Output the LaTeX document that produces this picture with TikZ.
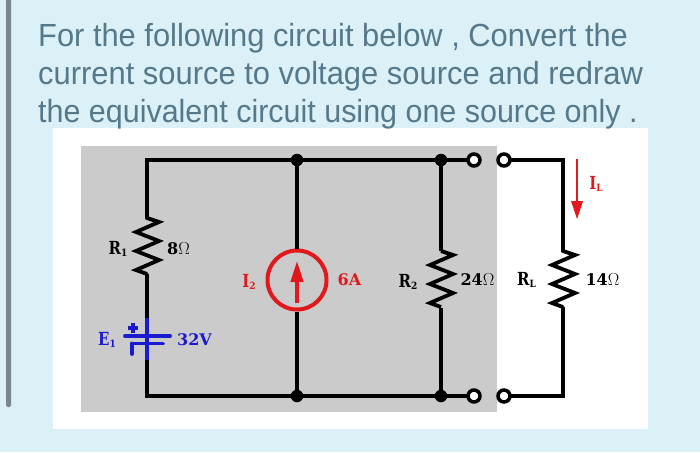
\documentclass[tikz,border=0pt]{standalone}
\usepackage[no-math]{fontspec}
\newfontfamily\headfont{Liberation Sans}
\newfontfamily\labfont{DejaVu Serif}
\definecolor{panelbg}{HTML}{DCF0F7}
\definecolor{greybox}{HTML}{CBCBCB}
\definecolor{sidebar}{HTML}{78878C}
\definecolor{headtext}{HTML}{55798A}
\definecolor{srcred}{HTML}{E2181C}
\definecolor{batblue}{HTML}{1A1AD0}
\tikzset{
  wire/.style={line width=3.8pt,black,line cap=round,line join=miter},
  dot/.style={circle,fill=black,inner sep=0pt,minimum size=12.5pt},
  term/.style={circle,draw=black,fill=white,line width=3.5pt,inner sep=0pt,minimum size=12pt},
  lab/.style={font=\fontsize{18}{18}\selectfont\labfont\bfseries,inner sep=0pt,anchor=base},
  val/.style={font=\fontsize{16}{16}\selectfont\labfont\bfseries,inner sep=0pt,anchor=base},
  head/.style={font=\fontsize{32}{32}\selectfont\headfont,text=headtext,anchor=base west,inner sep=0pt},
  redarrow/.style={line width=3.4pt,srcred},
  bat/.style={line width=3.8pt,batblue}
}
\newcommand{\zig}[1]{\draw[wire,line cap=butt] (#1) -- ++(12,4) -- ++(-23,10) -- ++(23,9) -- ++(-23,10) -- ++(23,9) -- ++(-23,10) -- ++(11,4);}
\newcommand{\ohm}{{\fontsize{19}{19}\selectfont\normalfont$\Omega$}}
\newcommand{\rlab}[2]{\scalebox{.83}[1]{#1}\raisebox{-2.5pt}{\fontsize{10}{10}\selectfont\scalebox{.9}[1]{#2}}}
\begin{document}
\begin{tikzpicture}[x=1pt,y=-1pt]
\useasboundingbox (0,0) rectangle (700,452);
\fill[panelbg] (0,0) rectangle (700,452);
\fill[sidebar,rounded corners=2pt] (6,-5) rectangle (11,407);
\fill[white] (53,128) rectangle (648,429);
\fill[greybox] (81,146) rectangle (497,412);

\node[head] (h1) at (38,46) {\scalebox{.964}[1]{For the following circuit below , Convert the}};
\node[head] (h2) at (38,84) {\scalebox{.966}[1]{current source to voltage source and redraw}};
\node[head] (h3) at (38,122) {\scalebox{.952}[1]{the equivalent circuit using one source only .}};

\coordinate (tl) at (147,160);
\coordinate (bl) at (147,396);
\coordinate (tr) at (563,160);
\coordinate (br) at (563,396);
\coordinate (r1t) at (147,218);
\coordinate (r1b) at (147,275);
\coordinate (r2t) at (441,251);
\coordinate (r2b) at (441,308);
\coordinate (rlt) at (563,251);
\coordinate (rlb) at (563,308);

\node[dot] (j1) at (297,160) {};
\node[dot] (j2) at (441,160) {};
\node[dot] (j3) at (297,396) {};
\node[dot] (j4) at (441,396) {};
\node[circle,draw=srcred,line width=4pt,fill=none,inner sep=0pt,minimum size=59pt] (cs) at (297,280) {};
\coordinate (ta) at (474,160);
\coordinate (tb) at (504,160);
\coordinate (ba) at (474,396);
\coordinate (bb) at (504,396);

\draw[wire] (r1t) -- (tl) -- (j1) -- (j2) -- (ta);
\draw[wire] (r1b) -- (bl) -- (j3) -- (j4) -- (ba);
\draw[wire] (tb) -- (tr) -- (rlt);
\draw[wire] (bb) -- (br) -- (rlb);
\draw[wire,line cap=butt] (j1) -- (cs);
\draw[wire,line cap=butt] (cs) -- (j3);
\draw[wire,line cap=butt] (j2) -- (r2t);
\draw[wire,line cap=butt] (r2b) -- (j4);
\zig{r1t}
\zig{r2t}
\zig{rlt}

\node[term] (t1) at (ta) {};
\node[term] (t2) at (tb) {};
\node[term] (t3) at (ba) {};
\node[term] (t4) at (bb) {};

% battery
\coordinate (b1) at (147,318);
\coordinate (b2) at (147,360);
\draw[bat] (b1) -- (b2);
\draw[bat,line cap=round] (125,336) -- (170,336);
\draw[bat,line cap=round] (132,343.5) -- (163,343.5);
\draw[bat,line cap=round] (132,343.5) -- (132,354);
\draw[batblue,line width=3.6pt] (128,328) -- (137.5,328) (132.7,323) -- (132.7,333);

% current source arrow
\draw[redarrow] (297,303) -- (297,275);
\fill[srcred] (297,261.5) -- (303.7,282) -- (290.3,282) -- cycle;

% load current arrow
\coordinate (ia) at (577,159);
\coordinate (ib) at (577,202);
\draw[line width=2.8pt,srcred] (ia) -- (ib);
\fill[srcred] (577,219) -- (571,201) -- (583,201) -- cycle;

\node[lab] (lr1) at (118,254) {\rlab{R}{1}};
\node[val] (v8) at (178.5,254) {8\ohm};
\node[lab,text=batblue] (le1) at (107,345) {\rlab{E}{1}};
\node[val,text=batblue] (v32) at (194.5,345.5) {32V};
\node[lab,text=srcred] (li2) at (249,287) {\rlab{I}{2}};
\node[val,text=srcred] (v6) at (349.5,285) {6A};
\node[lab] (lr2) at (408,287) {\rlab{R}{2}};
\node[val] (v24) at (477.5,285) {24\ohm};
\node[lab] (lrl) at (526.5,285) {\rlab{R}{L}};
\node[val] (v14) at (602.5,285) {14\ohm};
\node[lab,text=srcred] (lil) at (596,189) {\rlab{I}{L}};
\end{tikzpicture}
\end{document}
